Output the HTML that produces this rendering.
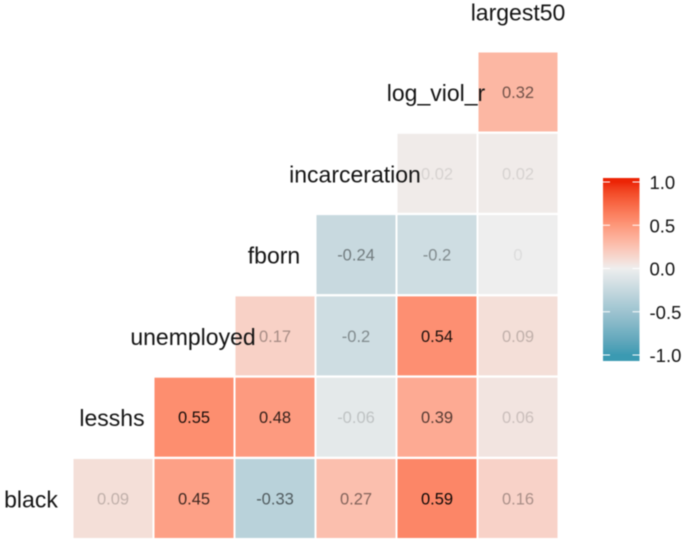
<!DOCTYPE html>
<html lang="en">
<head>
<meta charset="utf-8">
<title>Correlation matrix heatmap</title>
<style>
  html, body { margin: 0; padding: 0; background: #fff; }
  body { width: 685px; height: 541px; overflow: hidden; }
  svg { display: block; filter: blur(0.45px); }
  text { font-family: "Liberation Sans", Arial, sans-serif; }
</style>
</head>
<body>
<svg id="chart" width="685" height="541" viewBox="0 0 685 541" xmlns="http://www.w3.org/2000/svg">
  <defs>
    <linearGradient id="legend-gradient" gradientUnits="userSpaceOnUse" x1="0" x2="0"></linearGradient>
  </defs>
  <rect x="0" y="0" width="685" height="541" fill="#ffffff"></rect>
  <g id="cells"></g>
  <g id="cell-values"></g>
  <g id="var-labels"></g>
  <g id="legend"></g>
</svg>
<script>
const variables = ['black', 'lesshs', 'unemployed', 'fborn', 'incarceration', 'log_viol_r', 'largest50'];
const rowBlack = [0.09, 0.45, -0.33, 0.27, 0.59, 0.16];
const rowLesshs = [0.55, 0.48, -0.06, 0.39, 0.06];
const rowUnemployed = [0.17, -0.2, 0.54, 0.09];
const rowFborn = [-0.24, -0.2, 0];
const rowIncarceration = [0.02, 0.02];
const rowLogViol = [0.32];
const legendTicks = [1, 0.5, 0, -0.5, -1];
const legendTickLabels = ['1.0', '0.5', '0.0', '-0.5', '-1.0'];

const NS = 'http://www.w3.org/2000/svg';
const rows = [rowBlack, rowLesshs, rowUnemployed, rowFborn, rowIncarceration, rowLogViol];

function xScale(col) { return 113 + 81 * col; }
function yScale(row) { return 498.5 - 81.3 * row; }
function legendY(v) { return 268.5 - 86.5 * v; }

function toLab(hex) {
  const c = [1, 3, 5].map(function (i) { return parseInt(hex.substr(i, 2), 16) / 255; })
    .map(function (u) { return u > 0.04045 ? Math.pow((u + 0.055) / 1.055, 2.4) : u / 12.92; });
  const f = function (t) { return t > 0.008856 ? Math.cbrt(t) : 7.787 * t + 16 / 116; };
  const x = f((0.4124 * c[0] + 0.3576 * c[1] + 0.1805 * c[2]) / 0.95047);
  const y = f(0.2126 * c[0] + 0.7152 * c[1] + 0.0722 * c[2]);
  const z = f((0.0193 * c[0] + 0.1192 * c[1] + 0.9505 * c[2]) / 1.08883);
  return [116 * y - 16, 500 * (x - y), 200 * (y - z)];
}
function fromLab(lab) {
  const fy = (lab[0] + 16) / 116, fx = fy + lab[1] / 500, fz = fy - lab[2] / 200;
  const g = function (t) { return t * t * t > 0.008856 ? t * t * t : (t - 16 / 116) / 7.787; };
  const X = g(fx) * 0.95047, Y = g(fy), Z = g(fz) * 1.08883;
  const lin = [
    3.2406 * X - 1.5372 * Y - 0.4986 * Z,
    -0.9689 * X + 1.8758 * Y + 0.0415 * Z,
    0.0557 * X - 0.2040 * Y + 1.0570 * Z
  ];
  const out = lin.map(function (u) {
    const s = u > 0.0031308 ? 1.055 * Math.pow(u, 1 / 2.4) - 0.055 : 12.92 * u;
    return Math.max(0, Math.min(255, Math.round(s * 255)));
  });
  return 'rgb(' + out.join(',') + ')';
}
const labLow = toLab('#3B9AB2');
const labMid = toLab('#EEEEEE');
const labHigh = toLab('#EC2405');
function colorScale(v) {
  const end = v < 0 ? labLow : labHigh;
  const t = Math.min(1, Math.abs(v));
  return fromLab(labMid.map(function (m, i) { return m + (end[i] - m) * t; }));
}
function textAlpha(v) { return Math.min(0.95, 0.08 + 1.5 * Math.abs(v)); }

const cellsGroup = document.getElementById('cells');
const valuesGroup = document.getElementById('cell-values');
const labelsGroup = document.getElementById('var-labels');
const legendGroup = document.getElementById('legend');

rows.forEach(function (vals, r) {
  vals.forEach(function (v, k) {
    const col = r + k;
    const rect = document.createElementNS(NS, 'rect');
    
    
    rect.setAttribute('x', xScale(col) - 39.5);
    rect.setAttribute('y', yScale(r) - 39.5);
    rect.setAttribute('width', 79);
    rect.setAttribute('height', 79);
    rect.setAttribute('fill', colorScale(v));
    cellsGroup.appendChild(rect);

    const t = document.createElementNS(NS, 'text');
    
    
    t.setAttribute('x', xScale(col));
    t.setAttribute('y', yScale(r) + 6);
    t.setAttribute('text-anchor', 'middle');
    t.setAttribute('font-size', '16.5');
    t.setAttribute('fill', '#000000');
    t.setAttribute('fill-opacity', textAlpha(v));
    t.textContent = String(v);
    valuesGroup.appendChild(t);
  });
});

variables.forEach(function (name, i) {
  const t = document.createElementNS(NS, 'text');
  
  
  t.setAttribute('x', xScale(i - 1) + (i === 6 ? 0 : -1));
  t.setAttribute('y', yScale(i) + (i === 6 ? 10 : 9));
  t.setAttribute('text-anchor', 'middle');
  t.setAttribute('font-size', '23');
  t.setAttribute('fill', '#141414');
  t.textContent = name;
  labelsGroup.appendChild(t);
});

const gradient = document.getElementById('legend-gradient');
gradient.setAttribute('y1', legendY(legendTicks[0]));
gradient.setAttribute('y2', legendY(legendTicks[legendTicks.length - 1]));
const stopCount = 40;
for (let i = 0; i <= stopCount; i++) {
  const frac = i / stopCount;
  const v = legendTicks[0] + (legendTicks[legendTicks.length - 1] - legendTicks[0]) * frac;
  const stop = document.createElementNS(NS, 'stop');
  stop.setAttribute('offset', frac);
  stop.setAttribute('stop-color', colorScale(v));
  gradient.appendChild(stop);
}

const bar = document.createElementNS(NS, 'rect');


bar.setAttribute('x', 603);
bar.setAttribute('y', 178);
bar.setAttribute('width', 36.5);
bar.setAttribute('height', 183);
bar.setAttribute('fill', 'url(#legend-gradient)');
legendGroup.appendChild(bar);

legendTicks.forEach(function (v, i) {
  [[603, 610], [632.5, 639.5]].forEach(function (seg, side) {
    const line = document.createElementNS(NS, 'line');
    
    
    line.setAttribute('x1', seg[0]);
    line.setAttribute('x2', seg[1]);
    line.setAttribute('y1', legendY(v));
    line.setAttribute('y2', legendY(v));
    line.setAttribute('stroke', '#ffffff');
    line.setAttribute('stroke-width', '1');
    legendGroup.appendChild(line);
  });
  const t = document.createElementNS(NS, 'text');
  
  
  t.setAttribute('x', 649.5);
  t.setAttribute('y', legendY(v) + 7);
  t.setAttribute('font-size', '18.5');
  t.setAttribute('fill', '#141414');
  t.textContent = legendTickLabels[i];
  legendGroup.appendChild(t);
});
</script>
</body>
</html>
